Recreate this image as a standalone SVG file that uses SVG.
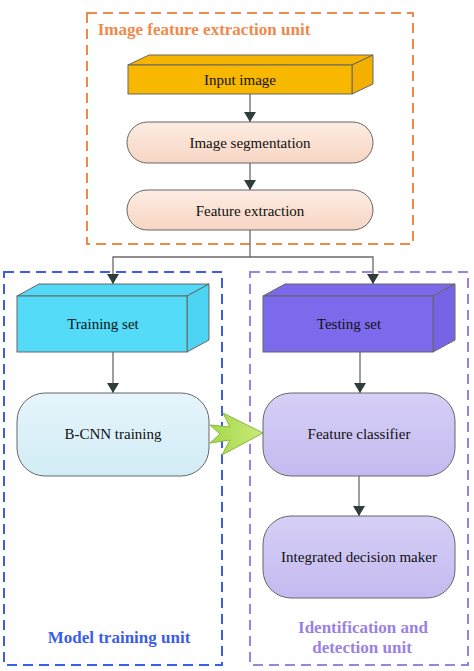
<svg xmlns="http://www.w3.org/2000/svg" width="474" height="671" viewBox="0 0 474 671">
<defs>
<style>
.t{font-family:"Liberation Serif","Times New Roman",serif;font-size:15px;fill:#111;text-anchor:middle}
.h{font-family:"Liberation Serif","Times New Roman",serif;font-size:17px;font-weight:bold;text-anchor:middle}
.ln{fill:none;stroke:#6a6a6a;stroke-width:1.3}
.box{stroke:#666;stroke-width:1}
</style>
<marker id="ah" viewBox="0 0 10 12" refX="10" refY="6" markerWidth="10" markerHeight="12" markerUnits="userSpaceOnUse" orient="auto">
<path d="M0,0 L10,6 L0,12 Z" fill="#2f3d3c"/>
</marker>
<linearGradient id="peach" x1="0" y1="0" x2="0" y2="1"><stop offset="0" stop-color="#fdece3"/><stop offset="1" stop-color="#f7d5c3"/></linearGradient>
<linearGradient id="lblue" x1="0" y1="0" x2="0" y2="1"><stop offset="0" stop-color="#e6f5fb"/><stop offset="1" stop-color="#d2ecf5"/></linearGradient>
<linearGradient id="lav" x1="0" y1="0" x2="0" y2="1"><stop offset="0" stop-color="#d6cff6"/><stop offset="1" stop-color="#c4baf0"/></linearGradient>
<linearGradient id="grn" x1="0" y1="0" x2="1" y2="0"><stop offset="0" stop-color="#a6d84a"/><stop offset="1" stop-color="#c9ea7a"/></linearGradient>
</defs>

<g id="unit-extraction">
<rect x="87" y="13" width="326" height="231" fill="none" stroke="#f0894a" stroke-width="2" stroke-dasharray="10,6"/>
<text class="h" x="204" y="35" fill="#f0894a">Image feature extraction unit</text>
</g>
<g id="unit-training">
<rect x="4" y="272" width="218" height="393" fill="none" stroke="#3c5ee6" stroke-width="2" stroke-dasharray="10,6"/>
<text class="h" x="119" y="643" fill="#3c5ee6">Model training unit</text>
</g>
<g id="unit-detection">
<rect x="250" y="272" width="218" height="393" fill="none" stroke="#9a82e2" stroke-width="2" stroke-dasharray="10,6"/>
<text class="h" x="363" y="633" fill="#9a82e2">Identification and</text>
<text class="h" x="362" y="653" fill="#9a82e2">detection unit</text>
</g>

<g id="connectors">
<line class="ln" x1="250" y1="94" x2="250" y2="122" marker-end="url(#ah)"/>
<line class="ln" x1="250" y1="163" x2="250" y2="190" marker-end="url(#ah)"/>
<polyline class="ln" points="250,230 250,257 113,257 113,284" marker-end="url(#ah)"/>
<polyline class="ln" points="250,257 373,257 373,284" marker-end="url(#ah)"/>
<line class="ln" x1="113" y1="352" x2="113" y2="393" marker-end="url(#ah)"/>
<line class="ln" x1="360" y1="352" x2="360" y2="393" marker-end="url(#ah)"/>
<line class="ln" x1="359" y1="476" x2="359" y2="516" marker-end="url(#ah)"/>
<polygon points="210,425 230,427 223,413 263,433 222,455 230,440 210,443 220,434" fill="url(#grn)" stroke="#86b83a" stroke-width="1"/>
</g>

<g id="input-image">
<polygon class="box" points="128,65 149,55 373,55 352,65" fill="#f6b400"/>
<polygon class="box" points="352,65 373,55 373,84 352,94" fill="#f3b000"/>
<rect class="box" x="128" y="65" width="224" height="29" fill="#f8b800"/>
<text class="t" x="240" y="85">Input image</text>
</g>
<g id="image-segmentation">
<rect class="box" x="127" y="122" width="246" height="41" rx="20.5" fill="url(#peach)"/>
<text class="t" x="250" y="148">Image segmentation</text>
</g>
<g id="feature-extraction">
<rect class="box" x="127" y="190" width="246" height="40" rx="20" fill="url(#peach)"/>
<text class="t" x="250" y="216">Feature extraction</text>
</g>

<g id="training-set">
<polygon class="box" points="17,296 39,284 209,284 187,296" fill="#52d9f7"/>
<polygon class="box" points="187,296 209,284 209,340 187,352" fill="#4cd4f2"/>
<rect class="box" x="17" y="296" width="170" height="56" fill="#54dbf8"/>
<text class="t" x="103" y="329">Training set</text>
</g>
<g id="testing-set">
<polygon class="box" points="263,296 285,284 455,284 433,296" fill="#7a69ea"/>
<polygon class="box" points="433,296 455,284 455,340 433,352" fill="#7565e6"/>
<rect class="box" x="263" y="296" width="170" height="56" fill="#7b6aeb"/>
<text class="t" x="349" y="329">Testing set</text>
</g>

<g id="bcnn-training">
<rect class="box" x="17" y="393" width="192" height="83" rx="28" fill="url(#lblue)"/>
<text class="t" x="113" y="439">B-CNN training</text>
</g>
<g id="feature-classifier">
<rect class="box" x="263" y="393" width="192" height="83" rx="28" fill="url(#lav)"/>
<text class="t" x="359" y="439">Feature classifier</text>
</g>
<g id="integrated-decision-maker">
<rect class="box" x="263" y="516" width="192" height="82" rx="28" fill="url(#lav)"/>
<text class="t" x="359" y="562">Integrated decision maker</text>
</g>
</svg>
